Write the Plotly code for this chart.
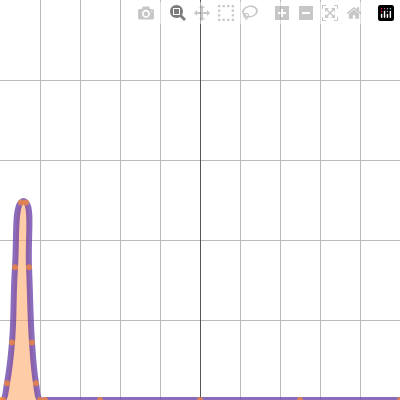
import plotly.graph_objects as go

x_vals = [-10.0, -9.85, -9.65, -9.4, -9.25, -8.95, -8.7, -8.55, -8.4, -8.2, -8.0, -7.75, -5.0, 0.0, 5.0, 10.0]
y_vals = [0.0, 0.0, 0.21, 0.72, 1.66, 2.47, 2.47, 1.66, 0.72, 0.21, 0.0, 0.0, 0.0, 0.0, 0.0, 0.0]

fig = go.Figure()
fig.add_trace(go.Scatter(
    x=x_vals, y=y_vals, mode="lines+markers", fill="tozeroy",
    fillcolor="rgba(255,170,110,0.6)",
    line=dict(color="rgba(110,70,170,0.8)", width=6, shape="spline", smoothing=1.3),
    marker=dict(color="rgba(255,140,50,0.7)", size=6),
))
fig.update_layout(
    width=400, height=400, margin=dict(l=0, r=0, t=0, b=0),
    plot_bgcolor="white", paper_bgcolor="white", showlegend=False,
    xaxis=dict(range=[-10, 10], dtick=2, showticklabels=False, gridcolor="#bbb", gridwidth=1.2,
               zeroline=True, zerolinecolor="#555", zerolinewidth=1,
               showline=True, linecolor="black", linewidth=2, mirror=False),
    yaxis=dict(range=[0, 5], dtick=1, showticklabels=False, gridcolor="#bbb", gridwidth=1.2,
               zeroline=False, showline=True, linecolor="black", linewidth=2),
)
fig.write_html("out.html", post_script="document.body.style.margin='0';")
